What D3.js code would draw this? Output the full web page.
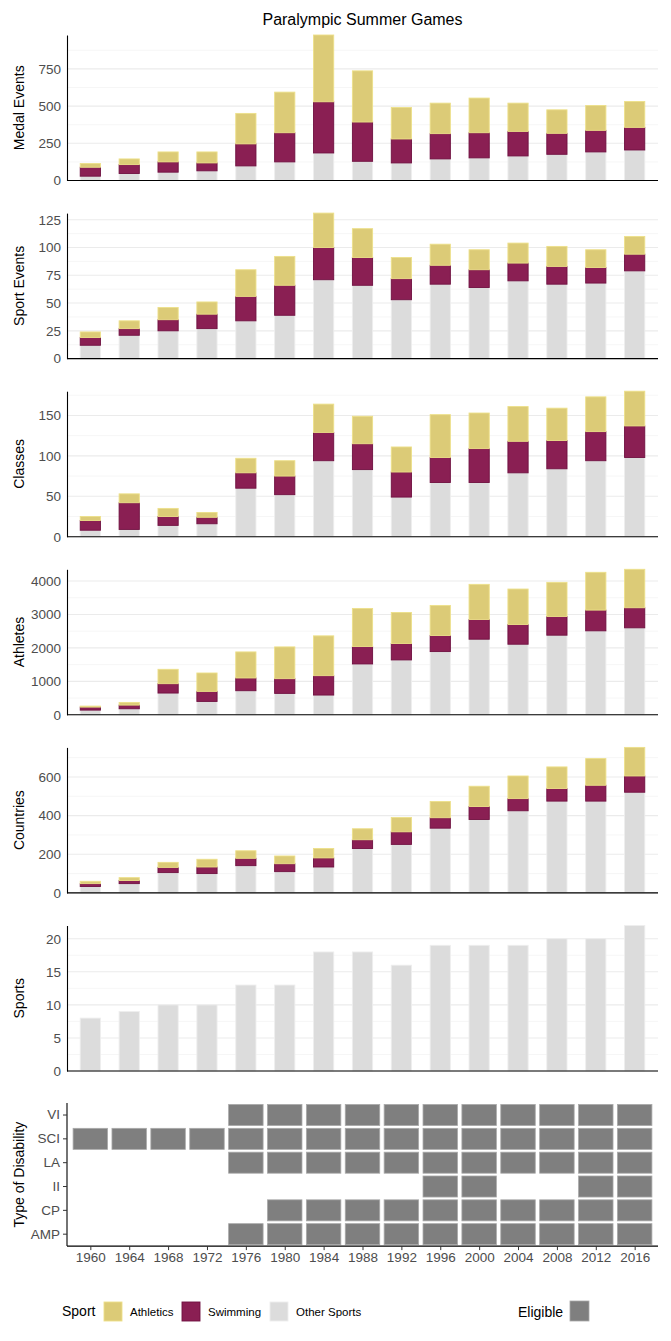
<!DOCTYPE html>
<html>
<head>
<meta charset="utf-8">
<script src="https://cdn.jsdelivr.net/npm/d3@7"></script>
<style>
  html, body { margin: 0; padding: 0; background: #fff; }
  svg { display: block; font-family: "Liberation Sans", Arial, sans-serif; }
</style>
</head>
<body>
<div id="chart"></div>
<script>
// games
const years = ['1960','1964','1968','1972','1976','1980','1984','1988','1992','1996','2000','2004','2008','2012','2016'];

// stacked panels (other / swimming / athletics)
const medalOther     = [29, 47, 56, 65, 98, 125, 185, 129, 118, 145, 152, 165, 176, 192, 205];
const medalSwimming  = [60, 60, 69, 53, 148, 196, 344, 264, 161, 170, 169, 165, 141, 145, 152];
const medalAthletics = [25, 38, 67, 74, 205, 273, 449, 344, 212, 205, 233, 190, 158, 167, 174];

const eventOther     = [12, 21, 25, 27, 34, 39, 71, 66, 53, 67, 64, 70, 67, 68, 79];
const eventSwimming  = [7, 6, 10, 13, 22, 27, 29, 25, 19, 17, 16, 16, 16, 14, 15];
const eventAthletics = [5, 7, 11, 11, 24, 26, 31, 26, 19, 19, 18, 18, 18, 16, 16];

const classOther     = [8, 9, 14, 16, 60, 52, 94, 83, 49, 67, 67, 79, 84, 94, 98];
const classSwimming  = [12, 33, 11, 8, 19, 23, 35, 32, 31, 31, 42, 39, 35, 36, 39];
const classAthletics = [5, 11, 10, 6, 18, 19, 35, 34, 31, 53, 44, 43, 40, 43, 43];

const athleteOther     = [140, 180, 650, 400, 720, 640, 590, 1520, 1640, 1890, 2260, 2110, 2380, 2510, 2600];
const athleteSwimming  = [90, 110, 280, 300, 380, 440, 580, 520, 490, 480, 590, 590, 560, 620, 600];
const athleteAthletics = [30, 80, 430, 550, 780, 950, 1190, 1140, 930, 900, 1050, 1060, 1020, 1130, 1150];

const countryOther     = [33, 48, 105, 100, 141, 110, 134, 230, 251, 335, 380, 425, 475, 475, 521];
const countrySwimming  = [15, 16, 27, 34, 38, 41, 47, 45, 65, 54, 67, 63, 65, 82, 84];
const countryAthletics = [12, 15, 26, 40, 39, 40, 49, 57, 74, 84, 105, 117, 112, 138, 148];

const sportCount = [8, 9, 10, 10, 13, 13, 18, 18, 16, 19, 19, 19, 20, 20, 22];

// y tick steps (major) per panel
const panelTitles = ['Medal Events', 'Sport Events', 'Classes', 'Athletes', 'Countries', 'Sports'];
const majorSteps  = [250, 25, 50, 1000, 200, 5];

// disability eligibility
const disabilityTypes = ['VI', 'SCI', 'LA', 'II', 'CP', 'AMP'];
const eligibleVI  = ['1976','1980','1984','1988','1992','1996','2000','2004','2008','2012','2016'];
const eligibleSCI = years.slice();
const eligibleLA  = ['1976','1980','1984','1988','1992','1996','2000','2004','2008','2012','2016'];
const eligibleII  = ['1996','2000','2012','2016'];
const eligibleCP  = ['1980','1984','1988','1992','1996','2000','2004','2008','2012','2016'];
const eligibleAMP = ['1976','1980','1984','1988','1992','1996','2000','2004','2008','2012','2016'];

const sportKeys   = ['other', 'swimming', 'athletics'];
const sportLabels = ['Athletics', 'Swimming', 'Other Sports'];
const FILL   = { athletics: '#dccb77', swimming: '#8a1f53', other: '#dcdcdc' };
const STROKE = { athletics: '#ede08a', swimming: '#6f1040', other: '#eeeeee' };
const TILE = '#7f7f7f';

const W = 671, H = 1341;
const left = 67, right = 658;
const panelTop0 = 35, panelGap = 178.1, panelH = 145.5;

const svg = d3.select('#chart').append('svg')
  .attr('width', W).attr('height', H)
  .attr('viewBox', `0 0 ${W} ${H}`);

const x = d3.scalePoint().domain(years).range([left, right]).padding(0.6);
const step = x.step();
const barW = step * 0.52;

svg.append('text')
  .attr('x', (left + right) / 2).attr('y', 25)
  .attr('text-anchor', 'middle')
  .attr('font-size', 16).attr('fill', '#000')
  .text('Paralympic Summer Games');

function rows(o, s, a) {
  return years.map((yr, i) => ({ year: yr, other: o[i], swimming: s[i], athletics: a[i] }));
}

const panels = [
  rows(medalOther, medalSwimming, medalAthletics),
  rows(eventOther, eventSwimming, eventAthletics),
  rows(classOther, classSwimming, classAthletics),
  rows(athleteOther, athleteSwimming, athleteAthletics),
  rows(countryOther, countrySwimming, countryAthletics),
  years.map((yr, i) => ({ year: yr, other: sportCount[i], swimming: 0, athletics: 0 }))
];

panels.forEach((data, pi) => {
  const top = panelTop0 + pi * panelGap;
  const bottom = top + panelH;
  const g = svg.append('g');

  const stacked = d3.stack().keys(sportKeys)(data);
  const ymax = d3.max(data, d => d.other + d.swimming + d.athletics);
  const y = d3.scaleLinear().domain([0, ymax]).range([bottom, top]);

  const st = majorSteps[pi];
  const major = d3.range(0, ymax + 1e-9, st);
  const minor = d3.range(st / 2, ymax + 1e-9, st);

  g.append('g').selectAll('line').data(minor).join('line')
    .attr('x1', left).attr('x2', right)
    .attr('y1', d => y(d)).attr('y2', d => y(d))
    .attr('stroke', '#f4f4f4').attr('stroke-width', 0.8);
  g.append('g').selectAll('line').data(major).join('line')
    .attr('x1', left).attr('x2', right)
    .attr('y1', d => y(d)).attr('y2', d => y(d))
    .attr('stroke', '#ebebeb').attr('stroke-width', 1.1);

  g.append('g').selectAll('g').data(stacked).join('g')
    .attr('fill', s => FILL[s.key])
    .attr('stroke', s => STROKE[s.key])
    .attr('stroke-width', 0.9)
    .selectAll('rect').data(s => s.filter(d => d[1] - d[0] > 0)).join('rect')
    .attr('x', d => x(d.data.year) - barW / 2)
    .attr('width', barW)
    .attr('y', d => y(d[1]))
    .attr('height', d => y(d[0]) - y(d[1]));

  const yAxis = d3.axisLeft(y).tickValues(major).tickSize(0).tickPadding(6)
    .tickFormat(d3.format('d'));
  const ya = g.append('g').attr('transform', `translate(${left},0)`).call(yAxis);
  ya.select('.domain').attr('stroke', '#000').attr('stroke-width', 1.1);
  ya.selectAll('text').attr('font-size', 13.5).attr('fill', '#4d4d4d')
    .attr('font-family', '"Liberation Sans", Arial, sans-serif');

  g.append('line')
    .attr('x1', left).attr('x2', right)
    .attr('y1', bottom).attr('y2', bottom)
    .attr('stroke', '#000').attr('stroke-width', 1.1);

  g.append('text')
    .attr('transform', `translate(19,${(top + bottom) / 2}) rotate(-90)`)
    .attr('text-anchor', 'middle').attr('dy', '0.35em')
    .attr('font-size', 14).attr('fill', '#000')
    .text(panelTitles[pi]);
});

// heatmap of eligible disability types
const eligible = { VI: eligibleVI, SCI: eligibleSCI, LA: eligibleLA, II: eligibleII, CP: eligibleCP, AMP: eligibleAMP };
const hTop = panelTop0 + 6 * panelGap - 0.5;
const hBottom = hTop + 143;
const yb = d3.scaleBand().domain(disabilityTypes).range([hTop, hBottom]);

const cells = [];
disabilityTypes.forEach(t => eligible[t].forEach(yr => cells.push({ type: t, year: yr })));

const hg = svg.append('g');
hg.selectAll('rect').data(cells).join('rect')
  .attr('x', d => x(d.year) - step / 2 + 2.2)
  .attr('width', step - 4.4)
  .attr('y', d => yb(d.type) + 1.4)
  .attr('height', yb.bandwidth() - 2.8)
  .attr('fill', TILE)
  .attr('stroke', '#a9a9a9').attr('stroke-width', 0.8);

const ha = hg.append('g').attr('transform', `translate(${left},0)`)
  .call(d3.axisLeft(yb).tickSize(4).tickPadding(3));
ha.select('.domain').attr('stroke', '#000').attr('stroke-width', 1.1)
  .attr('d', `M0,${hTop}V${hBottom}`);
ha.selectAll('.tick line').attr('stroke', '#333');
ha.selectAll('text').attr('font-size', 13.5).attr('fill', '#4d4d4d')
  .attr('font-family', '"Liberation Sans", Arial, sans-serif');

const hx = hg.append('g').attr('transform', `translate(0,${hBottom})`)
  .call(d3.axisBottom(x).tickSize(4).tickPadding(2));
hx.select('.domain').attr('stroke', '#000').attr('stroke-width', 1.1)
  .attr('d', `M${left},0H${right}`);
hx.selectAll('.tick line').attr('stroke', '#333');
hx.selectAll('text').attr('font-size', 13.5).attr('fill', '#4d4d4d')
  .attr('font-family', '"Liberation Sans", Arial, sans-serif');

hg.append('text')
  .attr('transform', `translate(19,${(hTop + hBottom) / 2}) rotate(-90)`)
  .attr('text-anchor', 'middle').attr('dy', '0.35em')
  .attr('font-size', 14).attr('fill', '#000')
  .text('Type of Disability');

// legend
const lg = svg.append('g');
const ly = 1302;
lg.append('text').attr('x', 62).attr('y', ly + 14)
  .attr('font-size', 14).attr('fill', '#000').text('Sport');

const legendKeys = ['athletics', 'swimming', 'other'];
const legendX = d3.scaleOrdinal().domain(legendKeys).range([104, 182, 270]);
legendKeys.forEach((k, i) => {
  lg.append('rect')
    .attr('x', legendX(k)).attr('y', ly)
    .attr('width', 18).attr('height', 19)
    .attr('fill', FILL[k]).attr('stroke', STROKE[k]).attr('stroke-width', 0.9);
  lg.append('text')
    .attr('x', legendX(k) + 26).attr('y', ly + 14)
    .attr('font-size', 11.5).attr('fill', '#000')
    .text(sportLabels[i]);
});

lg.append('text').attr('x', 518).attr('y', ly + 15)
  .attr('font-size', 14).attr('fill', '#000').text('Eligible');
lg.append('rect')
  .attr('x', 570).attr('y', ly - 1)
  .attr('width', 19).attr('height', 20)
  .attr('fill', TILE).attr('stroke', '#a9a9a9').attr('stroke-width', 0.8);
</script>
</body>
</html>
